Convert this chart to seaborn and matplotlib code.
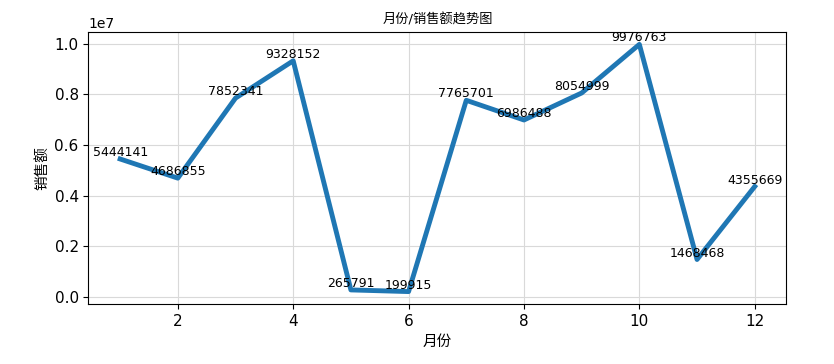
import matplotlib
matplotlib.use("Agg")
import matplotlib.pyplot as plt
import seaborn as sns
import pandas as pd

months = [1, 2, 3, 4, 5, 6, 7, 8, 9, 10, 11, 12]
sales = [5444141, 4686855, 7852341, 9328152, 265791, 199915,
         7765701, 6986488, 8054999, 9976763, 1468468, 4355669]

plt.rcParams['font.family'] = ['DejaVu Sans', 'Noto Sans CJK SC']

df = pd.DataFrame({"month": months, "sales": sales})

fig, ax = plt.subplots(figsize=(8.34, 3.64), dpi=100)
fig.subplots_adjust(left=0.106, right=0.943, top=0.912, bottom=0.165)
sns.lineplot(data=df, x="month", y="sales", ax=ax, color="#1f77b4", linewidth=3.5)
ax.grid(True, color="#d9d9d9", linewidth=0.8)
ax.set_axisbelow(True)
for m, s in zip(months, sales):
    ax.text(m, s, str(s), ha="center", va="bottom", fontsize=9)
ax.set_title("月份/销售额趋势图", fontsize=9.5)
ax.set_xlabel("月份", fontsize=10.5)
ax.set_ylabel("销售额", fontsize=10.5)
ax.tick_params(labelsize=11)
ax.yaxis.get_offset_text().set_fontsize(10)
fig.savefig("out.png", dpi=100)
